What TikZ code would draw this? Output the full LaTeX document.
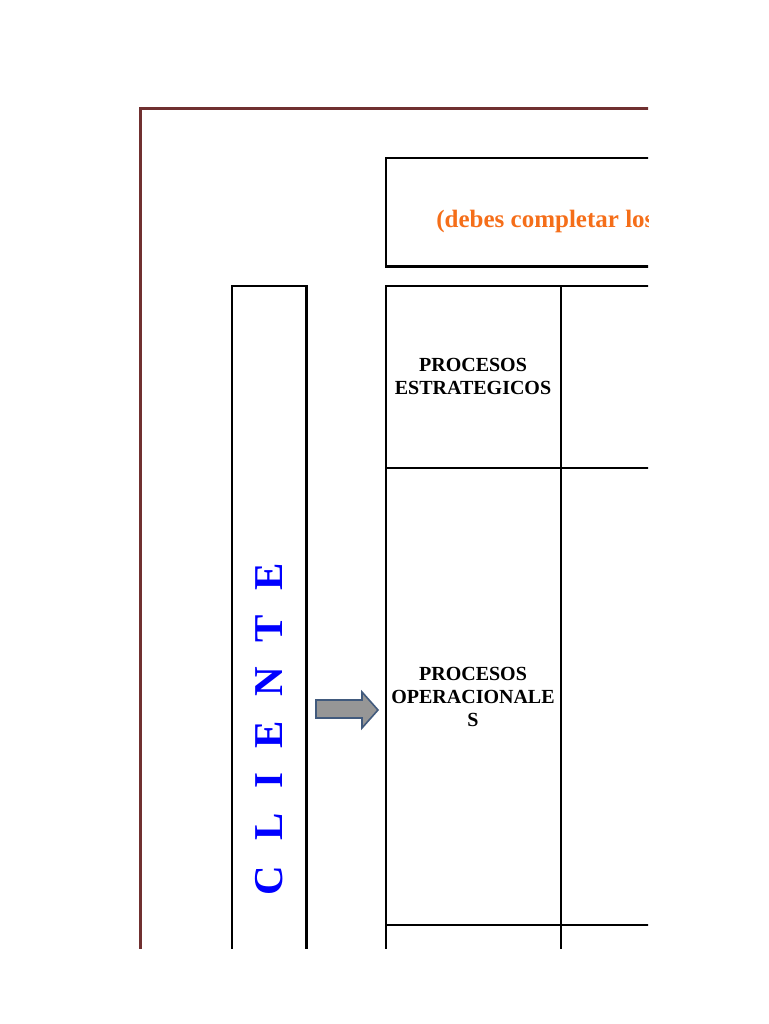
\documentclass[tikz,border=0pt]{standalone}
\usepackage{fontspec}
\setmainfont{Liberation Serif}
\definecolor{framebrown}{RGB}{112,48,48}
\definecolor{titleorange}{RGB}{245,110,25}
\definecolor{arrgray}{RGB}{150,150,150}
\definecolor{arredge}{RGB}{65,90,125}

\begin{document}
\begin{tikzpicture}[x=0.5pt, y=-0.5pt,
    frame/.style={draw=framebrown, line width=1.5pt},
    rule/.style={draw=black, line width=1pt},
    boldrule/.style={draw=black, line width=1.5pt},
    lbl/.style={font=\fontsize{10}{11.5}\selectfont\bfseries, align=center, inner sep=0pt},
    ttl/.style={font=\fontsize{12.5}{15}\selectfont\bfseries, text=titleorange, inner sep=0pt},
    cli/.style={font=\fontsize{20.5}{24}\selectfont\bfseries, text=blue, rotate=90, inner sep=0pt},
    blockarr/.style={draw=arredge, fill=arrgray, line width=0.8pt, line join=miter},
]
    \useasboundingbox (0,0) rectangle (768,1024);
    \begin{scope}
    \clip (0,0) rectangle (648,948);

    % Outer frame, open to the right and bottom.
    \draw[frame] (140,1000) -- (140,108) -- (700,108);

    % Title box, cut at the page edge.
    \draw[rule] (700,158) -- (386,158) -- (386,266);
    \draw[boldrule] (385,266) -- (700,266);
    \node[ttl, anchor=base west] (title) at (436,227) {(debes completar los};

    % Client column.
    \draw[rule] (232,1000) -- (232,286) -- (306,286);
    \draw[boldrule] (306,285) -- (306,1000);
    \node[cli] (cliente) at (269,729) {\spaceskip=0.6em C L I E N T E};

    % Block arrow into the process table.
    \draw[blockarr] (316,700) -- (362,700) -- (362,692) -- (378,710)
        -- (362,728) -- (362,718) -- (316,718) -- cycle;

    % Process table.
    \draw[rule] (386,1000) -- (386,286) -- (700,286);
    \draw[rule] (561,286) -- (561,1000);
    \draw[rule] (386,468) -- (700,468);
    \draw[rule] (386,925) -- (700,925);
    \node[lbl] (estrat) at (473,376) {PROCESOS\\ESTRATEGICOS};
    \node[lbl] (operac) at (473,697) {PROCESOS\\OPERACIONALE\\S};
    \end{scope}
\end{tikzpicture}
\end{document}
